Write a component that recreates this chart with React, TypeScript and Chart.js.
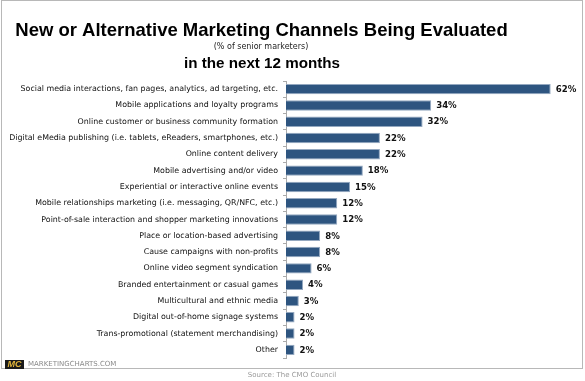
import React, { useEffect, useRef } from "react";
import { Chart, registerables } from "chart.js";

Chart.register(...registerables);

const categories = [
  "Social media interactions, fan pages, analytics, ad targeting, etc.",
  "Mobile applications and loyalty programs",
  "Online customer or business community formation",
  "Digital eMedia publishing (i.e. tablets, eReaders, smartphones, etc.)",
  "Online content delivery",
  "Mobile advertising and/or video",
  "Experiential or interactive online events",
  "Mobile relationships marketing (i.e. messaging, QR/NFC, etc.)",
  "Point-of-sale interaction and shopper marketing innovations",
  "Place or location-based advertising",
  "Cause campaigns with non-profits",
  "Online video segment syndication",
  "Branded entertainment or casual games",
  "Multicultural and ethnic media",
  "Digital out-of-home signage systems",
  "Trans-promotional (statement merchandising)",
  "Other",
];
const values = [62, 34, 32, 22, 22, 18, 15, 12, 12, 8, 8, 6, 4, 3, 2, 2, 2];

const titleText = "New or Alternative Marketing Channels Being Evaluated";
const subtitleText = "(% of senior marketers)";
const title2Text = "in the next 12 months";
const sourceText = "Source: The CMO Council";
const brandText = "MARKETINGCHARTS.COM";

const decor = {
  id: "decor",
  beforeDraw(chart: any) {
    const ctx = chart.ctx;
    ctx.save();
    ctx.fillStyle = "#ffffff";
    ctx.fillRect(0, 0, chart.width, chart.height);
    ctx.strokeStyle = "#b8b8b8";
    ctx.lineWidth = 1;
    ctx.strokeRect(1.5, 0.5, 581, 368);
    ctx.restore();
  },
  afterDraw(chart: any) {
    const ctx = chart.ctx;
    ctx.save();
    ctx.textAlign = "center";
    ctx.textBaseline = "middle";
    ctx.fillStyle = "#000";
    ctx.font = "bold 18.5px 'Liberation Sans', Arial, sans-serif";
    ctx.fillText(titleText, 261.5, 31);
    ctx.font = "8px 'DejaVu Sans', Verdana, sans-serif";
    ctx.fillStyle = "#222";
    ctx.fillText(subtitleText, 261, 47);
    ctx.fillStyle = "#000";
    ctx.font = "bold 15.2px 'Liberation Sans', Arial, sans-serif";
    ctx.fillText(title2Text, 262, 64);
    // value labels
    const meta = chart.getDatasetMeta(0);
    ctx.font = "bold 8.6px 'DejaVu Sans', Verdana, sans-serif";
    ctx.textAlign = "left";
    ctx.fillStyle = "#111";
    meta.data.forEach((bar: any, i: number) => {
      ctx.fillText(values[i] + "%", bar.x + 5, bar.y + 0.5);
    });
    // logo
    ctx.fillStyle = "#1a1a1a";
    ctx.fillRect(5, 360, 19, 9);
    ctx.fillStyle = "#e0b43a";
    ctx.font = "bold italic 9px 'Liberation Sans', Arial, sans-serif";
    ctx.textAlign = "center";
    ctx.fillText("MC", 14.5, 364.8);
    ctx.fillStyle = "#8a8a8a";
    ctx.font = "7px 'DejaVu Sans', Verdana, sans-serif";
    ctx.textAlign = "left";
    ctx.fillText(brandText, 28, 364.5);
    ctx.fillStyle = "#999";
    ctx.textAlign = "center";
    ctx.fillText(sourceText, 292, 375.5);
    ctx.restore();
  },
};

export default function App() {
  const ref = useRef<HTMLCanvasElement>(null);
  useEffect(() => {
    document.body.style.margin = "0";
    const chart = new Chart(ref.current!, {
      type: "bar",
      data: {
        labels: categories,
        datasets: [
          {
            data: values,
            backgroundColor: "#2e5580",
            borderColor: "#94a8c0",
            borderWidth: 1,
            barPercentage: 0.64,
            categoryPercentage: 1,
          },
        ],
      },
      options: {
        indexAxis: "y",
        responsive: false,
        animation: false,
        layout: { padding: { top: 81, bottom: 23, left: 7, right: 21.5 } },
        plugins: {
          legend: { display: false },
          tooltip: { enabled: false },
          title: { display: false },
        },
        scales: {
          x: { display: false, min: 0, max: 65 },
          y: {
            afterFit(scale: any) {
              scale.width = 279;
            },
            border: { display: true, color: "#aaaaaa", width: 1 },
            grid: {
              drawOnChartArea: false,
              drawTicks: true,
              tickLength: 3,
              color: "#aaaaaa",
              offset: true,
            },
            ticks: {
              padding: 5,
              color: "#111",
              font: { family: "'DejaVu Sans', Verdana, sans-serif", size: 7.9 },
              autoSkip: false,
            },
          },
        },
      },
      plugins: [decor],
    });
    return () => chart.destroy();
  }, []);
  return <canvas ref={ref} width={585} height={381} style={{ display: "block" }} />;
}
